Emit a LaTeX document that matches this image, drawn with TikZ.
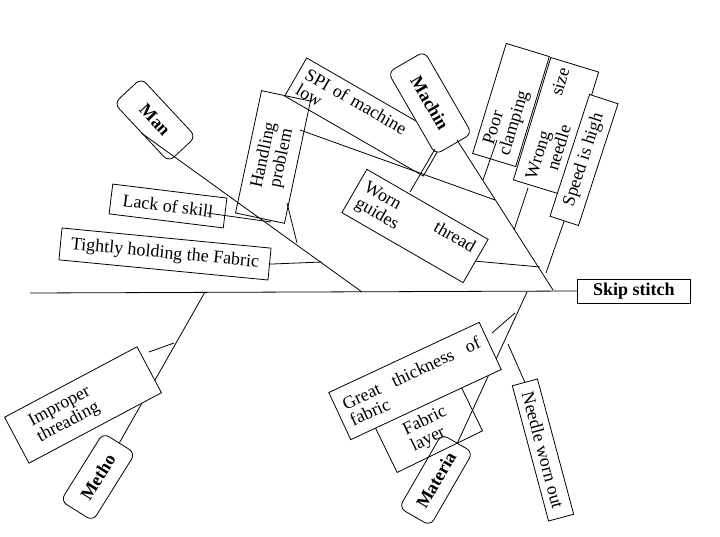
\documentclass[tikz,border=0pt]{standalone}
\usepackage{fontspec}
\setmainfont{Liberation Serif}
\begin{document}
\begin{tikzpicture}[x=1pt,y=-1pt,line width=0.8pt,
  box/.style={draw,inner sep=3pt,align=left,font=\fontsize{18}{18}\selectfont},
  cat/.style={draw,rounded corners=7pt,font=\bfseries\fontsize{18}{19}\selectfont,inner sep=3pt}]
\useasboundingbox (0,0) rectangle (720,537);
% spine
\node[draw,font=\bfseries\fontsize{18}{19}\selectfont,minimum width=113pt,minimum height=24pt,anchor=west] (eff) at (577,291) {Skip stitch};
\coordinate (tail) at (30,293);
\draw (tail) -- (eff.west);
% Man
\node[cat,rotate=-47,minimum width=80pt,minimum height=37pt] (man) at (155,120) {Man};
\coordinate (manEnd) at (362,292);
\draw (man.south) -- (manEnd);
\node[box,rotate=-7,minimum width=115pt,minimum height=30pt] (lack) at (168,206) {Lack of skill};
\coordinate (lackE) at (271,222);
\draw (207,213) -- (lackE);
\node[box,rotate=-5.5,minimum width=210pt,minimum height=32pt] (tight) at (165,254) {Tightly holding the Fabric};
\coordinate (tightE) at (322,262);
\draw (tight.east) -- (tightE);
\node[box,rotate=78,minimum width=125pt,minimum height=50pt] (hand) at (273,157) {Handling\\\hspace*{4pt}problem};
\coordinate (handA) at (287,203); \coordinate (handE) at (297,243);
\draw (handA) -- (handE);
% Machin
\node[box,rotate=-30,minimum width=160pt,minimum height=44pt,text width=145pt] (spi) at (365,117) {SPI of machine\\low};
\coordinate (spiA) at (300,130); \coordinate (spiE) at (495,200);
\draw (spiA) -- (spiE);
\node[cat,rotate=-60,minimum width=95pt,minimum height=42pt,fill=white] (mach) at (430,103) {Machin};
\coordinate (machE) at (553,290);
\draw (457,140) -- (machE);
\node[box,rotate=-30,minimum width=140pt,minimum height=50pt,text width=125pt,fill=white] (worn) at (415,226) {Worn\hfill thread\\guides};
\coordinate (wornE) at (540,267);
\draw (worn.east) -- (wornE);
\draw (410,192) -- (435,149);
\node[box,rotate=73,minimum width=115pt,minimum height=45pt,text width=100pt] (poor) at (511,105) {\hspace*{6pt}Poor\\clamping};
\coordinate (poorA) at (497,140); \coordinate (poorE) at (483,180);
\draw (poorA) -- (poorE);
\node[box,rotate=73,minimum width=128pt,minimum height=50pt,text width=115pt,fill=white] (wrong) at (556,126) {Wrong\hfill size\\\hspace*{14pt}needle};
\coordinate (wrongA) at (528,188); \coordinate (wrongE) at (514,230);
\draw (wrongA) -- (wrongE);
\node[box,rotate=72,minimum width=128pt,minimum height=30pt,fill=white] (speed) at (584,160) {Speed is high};
\coordinate (speedE) at (546,273);
\draw (speed.west) -- (speedE);
% Metho
\node[cat,rotate=58,minimum width=80pt,minimum height=38pt] (metho) at (98,477) {Metho};
\coordinate (methoS) at (205,292);
\draw (methoS) -- (metho.east);
\node[box,rotate=28,minimum width=150pt,minimum height=52pt,text width=130pt,fill=white] (impr) at (83,405) {\hspace*{10pt}Improper\\\hspace*{10pt}threading};
\coordinate (imprE) at (174,343);
\draw (149,352) -- (imprE);
% Materia
\node[cat,rotate=60,minimum width=85pt,minimum height=36pt,fill=white] (mat) at (436,480) {Materia};
\coordinate (matS) at (527,292);
\draw (matS) -- (mat.east);
\node[box,rotate=26,minimum width=95pt,minimum height=50pt,anchor=south] (flayer) at (440,452) {Fabric\\layer};
\node[box,rotate=25,minimum width=166pt,minimum height=52pt,text width=150pt,fill=white] (great) at (415,381) {Great\hfill thickness\hfill of\\fabric};
\coordinate (greatE) at (515,313);
\draw (492,333) -- (greatE);
\node[box,rotate=-75,minimum width=140pt,minimum height=26pt] (needle) at (543,450) {Needle worn out};
\coordinate (needleA) at (508,344);
\draw (needleA) -- (needle.west);
\end{tikzpicture}
\end{document}
